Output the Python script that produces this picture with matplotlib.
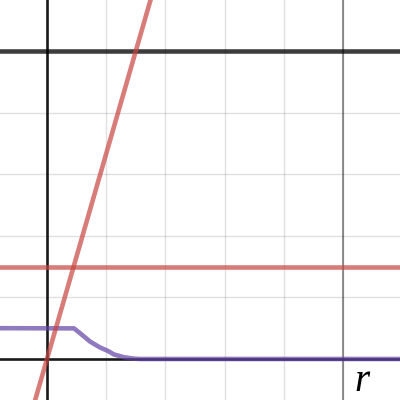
import matplotlib
matplotlib.use("Agg")
import matplotlib.pyplot as plt
import numpy as np

# ---- data ----
red_slope = 10 / 3          # y = (10/3) x
red_level = 1.5             # horizontal red line
black_level = 5.0           # horizontal black line
r_value = 5.0               # vertical line x = r
purple_x = [-0.8, 0.456, 0.574, 0.726, 0.895, 1.030, 1.132, 1.301, 1.470, 1.571, 6.0]
purple_y = [0.5, 0.497, 0.406, 0.284, 0.187, 0.130, 0.073, 0.028, 0.005, 0.0, 0.0]
grid_x = [1, 2, 3, 4, 5, 6]
grid_y = [1, 2, 3, 4, 5]
label_r = "r"

xmin, xmax = -0.794, 5.963
ymin, ymax = -0.666, 5.828

RED = "#c74440"
PURPLE = "#6042a6"

fig = plt.figure(figsize=(4, 4), dpi=100)
ax = fig.add_axes([0, 0, 1, 1])
ax.set_xlim(xmin, xmax)
ax.set_ylim(ymin, ymax)
for s in ax.spines.values():
    s.set_visible(False)
ax.set_xticks([])
ax.set_yticks([])

for gx in grid_x:
    ax.axvline(gx, color="#000000", alpha=0.12, lw=1.0, zorder=1)
for gy in grid_y:
    ax.axhline(gy, color="#000000", alpha=0.12, lw=1.0, zorder=1)

ax.axhline(0, color="#000000", alpha=0.9, lw=1.9, zorder=2)
ax.axvline(0, color="#000000", alpha=0.9, lw=1.9, zorder=2)

# vertical x = r
ax.axvline(r_value, color="#000000", alpha=0.4, lw=1.5, zorder=3)
# black horizontal
ax.axhline(black_level, color="#000000", alpha=0.75, lw=3.3, zorder=3)
# red horizontal
ax.axhline(red_level, color=RED, alpha=0.7, lw=3.3, zorder=4)
# purple curve
ax.plot(purple_x, purple_y, color=PURPLE, alpha=0.7, lw=3.3,
        solid_joinstyle="round", zorder=4)
# red line y = slope * x
xs = np.array([xmin, xmax])
ax.plot(xs, red_slope * xs, color=RED, alpha=0.7, lw=3.3, zorder=5)

ax.text(5.19, -0.52, label_r, fontsize=28, fontstyle="italic",
        family=["Liberation Serif", "DejaVu Serif"], ha="left",
        va="baseline", zorder=6)

fig.savefig("out.png", dpi=100)
